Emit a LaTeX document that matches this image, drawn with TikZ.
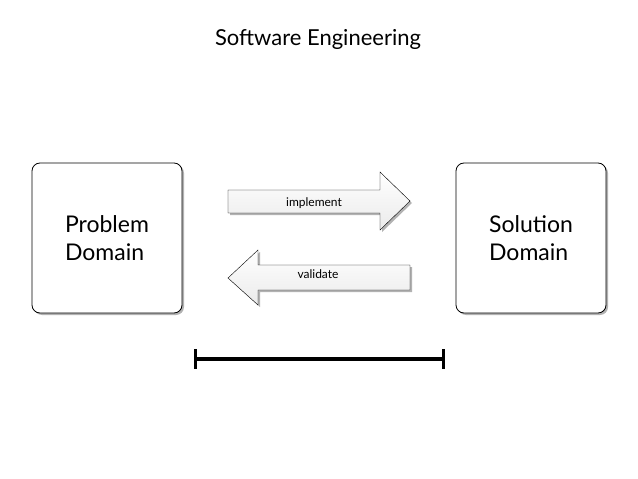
\documentclass[tikz,border=0pt]{standalone}
\usepackage{fontspec}
\setmainfont{Lato}
\usetikzlibrary{shadows}
\begin{document}
\begin{tikzpicture}[x=1pt,y=-1pt,
  sh/.style={drop shadow={shadow xshift=2pt,shadow yshift=-2pt,opacity=.6}},
  box/.style={draw,thick,rounded corners=8pt,fill=white,minimum width=150pt,minimum height=150pt,align=left,font=\fontsize{23}{28}\selectfont,sh},
  arr/.style={draw,top color=white,bottom color=black!8,sh},
  lbl/.style={font=\fontsize{12}{14}\selectfont}]
\useasboundingbox[fill=white] (0,0) rectangle (638,479);
\node[font=\fontsize{22}{26}\selectfont] (title) at (318,39) {Software Engineering};
\node[box] (pd) at (107,238) {Problem\\Domain};
\node[box] (sd) at (531,238) {Solution\\Domain};
\path[arr] (228,190) -- (380,190) -- (380,172) -- (410,201) -- (380,230) -- (380,213) -- (228,213) -- cycle;
\path[arr] (410,265) -- (258,265) -- (258,250) -- (228,278) -- (258,305) -- (258,290) -- (410,290) -- cycle;
\node[lbl] (il) at (314,203) {implement};
\node[lbl] (vl) at (318,274) {validate};
\coordinate (b1) at (195,359);
\coordinate (b2) at (443,359);
\draw[line width=4pt] (b1) -- (b2);
\draw[line width=3pt] (195,349) -- (195,369) (443,349) -- (443,369);
\end{tikzpicture}
\end{document}
